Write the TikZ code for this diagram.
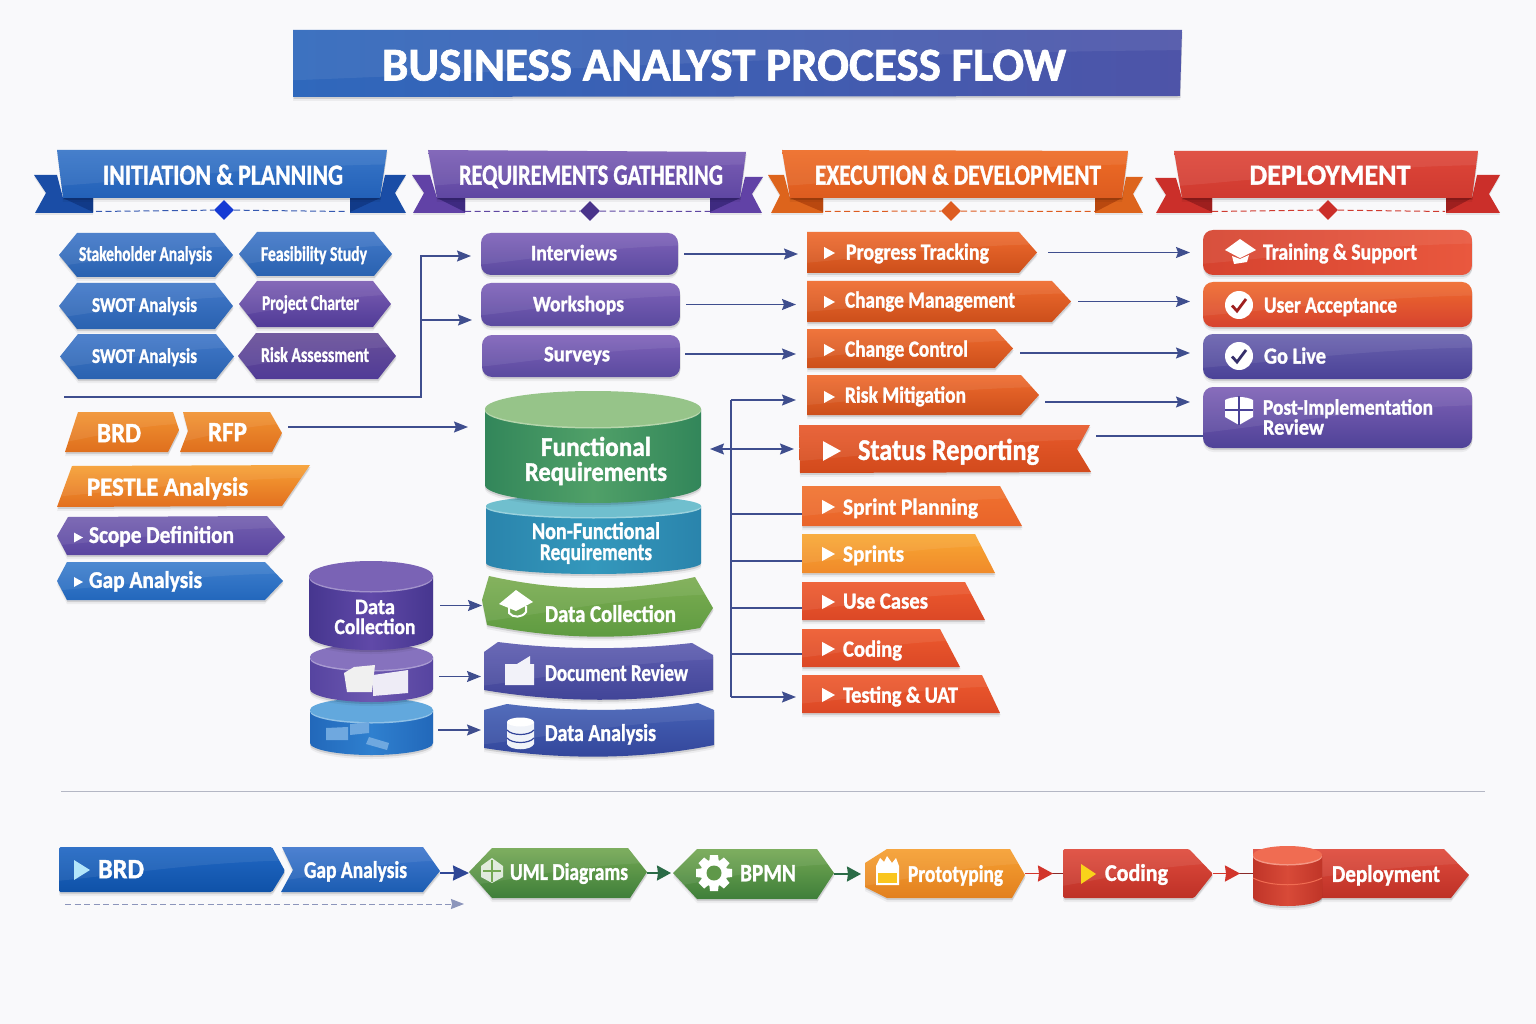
\documentclass[tikz,border=0pt]{standalone}
\usepackage{fontspec}
\usepackage{graphicx}
\setmainfont{Carlito}[BoldFont={Carlito Bold},BoldFeatures={FakeBold=1.4}]
\usetikzlibrary{arrows.meta,shapes.geometric,calc}
\def\defc#1#2{\definecolor{#1}{HTML}{#2}}
\defc{bgc}{F9F9FB}\defc{lnc}{3F4E8E}\defc{gry}{B4B7C4}
\defc{tA}{2F68BC}\defc{tB}{4E54A8}
\defc{bT}{3876C8}\defc{bB}{2361B8}\defc{bTail}{1A4DA6}\defc{bFold}{113A88}
\defc{pT}{7B5EB5}\defc{pB}{5F47A2}\defc{pTail}{6142A6}\defc{pFold}{3E2A80}
\defc{oT}{EE6C26}\defc{oB}{DD5C20}\defc{oTail}{DD641C}\defc{oFold}{B9480F}
\defc{rT}{DE4639}\defc{rB}{CF3A30}\defc{rTail}{CB2F2A}\defc{rFold}{9E1F1E}
\defc{hbT}{4279C9}\defc{hbB}{2A62B0}\defc{hpT}{7C5EB3}\defc{hpB}{503B97}
\defc{brT}{F19331}\defc{brB}{DF6F1E}\defc{peT}{F7A034}\defc{peB}{E26F1F}
\defc{spT}{7460B0}\defc{spB}{5A45A0}\defc{gpT}{3F80CE}\defc{gpB}{2367BC}
\defc{ivT}{7F62B9}\defc{ivB}{5A4A9F}
\defc{exT}{EF6B2E}\defc{exB}{CC4F1B}\defc{stT}{E85A2C}\defc{stB}{D24A1C}
\defc{s1T}{F0722F}\defc{s1B}{E9642A}\defc{s2T}{F8A834}\defc{s2B}{F08A2A}
\defc{s3T}{EE5A2E}\defc{s3B}{DB4826}
\defc{d1T}{E9583E}\defc{d1B}{D6432F}\defc{d3T}{6A62AE}\defc{d3B}{4A4297}
\defc{d4T}{7F62B6}\defc{d4B}{4F4298}
\defc{dcT}{7CAD52}\defc{dcB}{5D9A40}\defc{drT}{5F5EB1}\defc{drB}{3F4396}
\defc{daT}{4562B6}\defc{daB}{33459A}
\defc{b1T}{2268C4}\defc{b1B}{0F52A8}\defc{b2T}{4078CE}\defc{b2B}{1C5DB2}
\defc{gT}{74A853}\defc{gB}{3F7F3A}\defc{prT}{F6A032}\defc{prB}{E2801F}
\defc{cdT}{DF4B3C}\defc{cdB}{BE3127}
\defc{fgA}{32865A}\defc{fgM}{50A068}\defc{fgTop}{96C489}
\defc{ntA}{2A84AC}\defc{ntM}{3498BC}\defc{ntTop}{70BFCE}
\defc{c1A}{46368F}\defc{c1M}{6049A8}\defc{c1Top}{7A63B5}
\defc{c2A}{5644A0}\defc{c2M}{6C57B0}\defc{c2Top}{8672BE}
\defc{c3A}{2268BA}\defc{c3M}{2F80CF}\defc{c3Top}{62A8DD}
\defc{c4A}{C03528}\defc{c4M}{D84A38}\defc{c4Top}{F06C52}
\defc{ik}{6FA8DF}\defc{tipB}{2F4796}\defc{tipG}{2A6B46}\defc{tipR}{D2352B}\defc{lnR}{8A2A28}
\tikzset{
 lbl/.style={text=white,inner sep=0pt,outer sep=0pt,font=\bfseries},
 ghost/.style={inner sep=0pt,outer sep=0pt},
 conn/.style={draw=lnc,line width=1.3pt,-{Stealth[length=14pt,width=11pt,inset=2pt]}},
 plainln/.style={draw=lnc,line width=1.1pt},
 dashln/.style={dash pattern=on 6pt off 3.5pt,line width=1pt},
 tbs/.style 2 args={top color=#1,bottom color=#2},
}
\newsavebox\fitbox
\newcommand\fitw[3]{\sbox\fitbox{\fontsize{#2}{#2}\selectfont #3}\pgfmathsetmacro\sxx{#1/\the\wd\fitbox}\scalebox{\sxx}[1]{\usebox\fitbox}}
% name,x,y,width,size,text : y is the centre line of the capitals
\newcommand\lab[6]{\node[lbl,anchor=base] (#1) at ({#2},{#3+0.33*#5}) {\fitw{#4}{#5}{#6}};}
\newcommand\labb[9]{\node[lbl,align=center,font=\bfseries\fontsize{#6}{#7}\selectfont] (#1) at (#2,#3) {\fitw{#4}{#6}{#8}\\\fitw{#5}{#6}{#9}};}
% name,x1,y1,x2,y2,path,shading
\newcommand\shp[7]{%
 \path[fill=black,opacity=.05,shift={(0,4)}] #6;
 \path[fill=black,opacity=.12,shift={(.5,2)}] #6;
 \path[#7] #6;
 \begin{scope}\clip #6;
  \fill[white,opacity=.07] (#2,#3) -- (#4,#3) -- (#4,{#3+.3*(#5-#3)}) .. controls ({#2+.6*(#4-#2)},{#3+.35*(#5-#3)}) and ({#2+.3*(#4-#2)},{#3+.6*(#5-#3)}) .. (#2,{#3+.75*(#5-#3)}) -- cycle;
 \end{scope}
 \node[ghost,minimum width={(#4-#2)*1pt},minimum height={(#5-#3)*1pt}] (#1) at ({(#2+#4)/2},{(#3+#5)/2}) {};}
\newcommand\hexs[7]{\shp{#1}{#2}{#3}{#4}{#5}{({#2+#6},#3)--({#4-#6},#3)--(#4,{(#3+#5)/2})--({#4-#6},#5)--({#2+#6},#5)--(#2,{(#3+#5)/2})--cycle}{#7}}
\newcommand\penta[7]{\shp{#1}{#2}{#3}{#4}{#5}{(#2,#3)--(#6,#3)--(#4,{(#3+#5)/2})--(#6,#5)--(#2,#5)--cycle}{#7}}
\newcommand\slant[7]{\shp{#1}{#2}{#3}{#4}{#5}{(#2,#3)--(#6,#3)--(#4,#5)--(#2,#5)--cycle}{#7}}
\newcommand\rbox[6]{\shp{#1}{#2}{#3}{#4}{#5}{[rounded corners=10pt] (#2,#3) rectangle (#4,#5)}{#6}}
\newcommand\tri[4]{\fill[#4] ({#1},{#2-#3*.55}) -- ({#1+#3},#2) -- ({#1},{#2+#3*.55}) -- cycle;}
% name,x1,x2,ytop,ry,ybot,side,mid,top
\newcommand\cyl[9]{%
 \pgfmathsetmacro\cx{(#2+#3)/2}\pgfmathsetmacro\rx{(#3-#2)/2}\pgfmathsetmacro\cy{#4+#5}
 \def\bodyp{(#2,\cy) -- (#2,{#6-#5}) .. controls (#2,{#6-.45*#5}) and ({\cx-.55*\rx},#6) .. (\cx,#6) .. controls ({\cx+.55*\rx},#6) and (#3,{#6-.45*#5}) .. (#3,{#6-#5}) -- (#3,\cy) -- cycle}
 \path[fill=black,opacity=.05,shift={(0,4)}] \bodyp;
 \path[fill=black,opacity=.12,shift={(0,2)}] \bodyp;
 \path[left color=#7,right color=#7,middle color=#8] \bodyp;
 \fill[#9!70!white] (\cx,{\cy+1.5}) ellipse [x radius=\rx pt,y radius=#5 pt];
 \fill[#9] (\cx,\cy) ellipse [x radius=\rx pt,y radius=#5 pt];
 \node[ghost,minimum width={(#3-#2)*1pt},minimum height={(#6-#4)*1pt}] (#1) at (\cx,{(#4+#6)/2}) {};}
\newcommand\chk[3]{\fill[white] (#1,#2) circle (14pt);
 \draw[#3,line width=2.8pt] ({#1-7},{#2+.5}) -- ({#1-2},{#2+6}) -- ({#1+7},{#2-6});}
\newcommand\ribbon[9]{%
 \fill[black,opacity=.08,shift={(0,2)}] #1;\fill[black,opacity=.08,shift={(0,2)}] #3;
 \fill[#7] #1;\fill[#7] #3;\fill[#8] #2;\fill[#8] #4;}
\begin{document}
\begin{tikzpicture}[x=1pt,y=-1pt]
\useasboundingbox (0,0) rectangle (1536,1024);
\fill[bgc] (0,0) rectangle (1536,1024);
% ---- title
\shp{title}{293}{30}{1182}{97}{(293,30)--(1182,30)--(1180,96)--(293,97)--cycle}{left color=tA,right color=tB}
\lab{title-t}{724}{65}{684}{47}{BUSINESS ANALYST PROCESS FLOW}
% ---- banners
\ribbon{(34,175)--(46,193)--(35,213)--(93,213)--(93,198)--(63,198)--(57,175)--cycle}{(63,198)--(93,198)--(93,212)--cycle}{(406,175)--(395,193)--(406,213)--(350,213)--(350,198)--(380,198)--(385,175)--cycle}{(380,198)--(350,198)--(350,212)--cycle}{}{}{bTail}{bFold}{}
\shp{ban1}{57}{150}{387}{198}{(57,150)--(387,150)--(380,198)--(63,198)--cycle}{tbs={bT}{bB}}
\lab{ban1-t}{223}{175}{240}{29}{INITIATION \& PLANNING}
\ribbon{(412,175)--(424,193)--(413,213)--(465,213)--(465,198)--(437,198)--(430,175)--cycle}{(437,198)--(465,198)--(465,212)--cycle}{(763,177)--(752,194)--(762,213)--(710,213)--(710,198)--(740,198)--(745,177)--cycle}{(740,198)--(710,198)--(710,212)--cycle}{}{}{pTail}{pFold}{}
\shp{ban2}{428}{150}{746}{198}{(428,150)--(746,152)--(740,198)--(437,198)--cycle}{tbs={pT}{pB}}
\lab{ban2-t}{591}{175}{264}{29}{REQUIREMENTS GATHERING}
\ribbon{(768,175)--(780,195)--(771,213)--(823,213)--(823,198)--(790,198)--(784,175)--cycle}{(790,198)--(823,198)--(823,212)--cycle}{(1143,177)--(1133,194)--(1143,213)--(1095,213)--(1095,198)--(1122,198)--(1126,177)--cycle}{(1122,198)--(1095,198)--(1095,212)--cycle}{}{}{oTail}{oFold}{}
\shp{ban3}{782}{150}{1128}{198}{(782,150)--(1128,151)--(1122,198)--(790,198)--cycle}{tbs={oT}{oB}}
\lab{ban3-t}{958}{175}{286}{29}{EXECUTION \& DEVELOPMENT}
\ribbon{(1155,178)--(1166,195)--(1156,213)--(1212,213)--(1212,198)--(1182,198)--(1176,178)--cycle}{(1182,198)--(1212,198)--(1212,212)--cycle}{(1500,175)--(1489,194)--(1500,213)--(1446,213)--(1446,198)--(1472,198)--(1477,175)--cycle}{(1472,198)--(1446,198)--(1446,212)--cycle}{}{}{rTail}{rFold}{}
\shp{ban4}{1174}{151}{1478}{198}{(1174,151)--(1478,151)--(1472,198)--(1182,198)--cycle}{tbs={rT}{rB}}
\lab{ban4-t}{1330}{175}{161}{29}{DEPLOYMENT}
% dashes and diamonds
\coordinate (dl1) at (96,211.5);\coordinate (dr1) at (345,211.5);
\coordinate (dl2) at (465,211.5);\coordinate (dr2) at (710,211.5);
\coordinate (dl3) at (825,211.5);\coordinate (dr3) at (1095,211.5);
\coordinate (dl4) at (1212,211.5);\coordinate (dr4) at (1445,211.5);
\node[diamond,fill=bB!60!blue,inner sep=0pt,minimum size=20pt] (dia1) at (224,210) {};
\node[diamond,fill=pFold!80!pT,inner sep=0pt,minimum size=20pt] (dia2) at (590,211) {};
\node[diamond,fill=oB,inner sep=0pt,minimum size=20pt] (dia3) at (951,211) {};
\node[diamond,fill=rTail,inner sep=0pt,minimum size=20pt] (dia4) at (1328,210) {};
\draw[dashln,draw=bB!70!pB] (dl1)--(dia1)--(dr1);
\draw[dashln,draw=pB] (dl2)--(dia2)--(dr2);
\draw[dashln,draw=oB] (dl3)--(dia3)--(dr3);
\draw[dashln,draw=rB] (dl4)--(dia4)--(dr4);
% ---- initiation column
\hexs{hx1}{59}{233}{233}{277}{18}{tbs={hbT}{hbB}}\lab{hx1-t}{145.5}{254}{133}{21}{Stakeholder Analysis}
\hexs{hx2}{239}{232}{392}{276}{18}{tbs={hbT}{hbB}}\lab{hx2-t}{314}{254}{106}{21}{Feasibility Study}
\hexs{hx3}{59}{283}{233}{329}{18}{tbs={hbT}{hbB}}\lab{hx3-t}{144.5}{305}{105}{21}{SWOT Analysis}
\hexs{hx4}{239}{281}{391}{327}{18}{tbs={hpT}{hpB}}\lab{hx4-t}{310.5}{303}{97}{21}{Project Charter}
\hexs{hx5}{60}{334}{234}{379}{18}{tbs={hbT}{hbB}}\lab{hx5-t}{144.5}{356}{105}{21}{SWOT Analysis}
\hexs{hx6}{238}{333}{396}{379}{18}{tbs={hpT!85!black}{hpB}}\lab{hx6-t}{315}{355}{108}{21}{Risk Assessment}
\shp{brd}{65}{412}{179}{452}{(78,412)--(173,412)--(179,430)--(168,452)--(65,452)--cycle}{tbs={brT}{brB}}\lab{brd-t}{119}{433}{44}{28}{BRD}
\shp{rfp}{180}{412}{282}{452}{(183,412)--(270,412)--(282,433)--(272,452)--(180,452)--(188,431)--cycle}{tbs={brT}{brB}}\lab{rfp-t}{227.5}{432}{39}{28}{RFP}
\shp{pestle}{57}{465}{310}{507}{(72,466)--(310,465)--(282,506)--(57,507)--cycle}{tbs={peT}{peB}}\lab{pestle-t}{167.5}{487}{161}{26}{PESTLE Analysis}
\shp{scope}{57}{516}{285}{555}{(68,517)--(267,516)--(285,537)--(267,555)--(67,555)--(57,536)--cycle}{tbs={spT}{spB}}
\tri{74}{537.5}{9}{white}\lab{scope-t}{161.5}{535}{145}{24}{Scope Definition}
\shp{gap}{57}{562}{283}{600}{(67,562)--(265,562)--(283,581)--(265,600)--(67,600)--(57,581)--cycle}{tbs={gpT}{gpB}}
\tri{74}{582}{9}{white}\lab{gap-t}{145.5}{580}{113}{24}{Gap Analysis}
% ---- requirements column
\rbox{iv}{481}{233}{678}{275}{tbs={ivT}{ivB}}\lab{iv-t}{574}{253}{86}{22}{Interviews}
\rbox{ws}{481}{283}{680}{326}{tbs={ivT}{ivB}}\lab{ws-t}{578.5}{304}{91}{22}{Workshops}
\rbox{sv}{482}{335}{680}{377}{tbs={ivT}{ivB}}\lab{sv-t}{577}{354}{66}{22}{Surveys}
\cyl{nfr}{486}{701}{495}{11}{574}{ntA}{ntM}{ntTop}
\labb{nfr-t}{596}{543}{128}{112}{24}{21}{Non-Functional}{Requirements}
\cyl{fr}{485}{701}{391}{18}{503}{fgA}{fgM}{fgTop}
\labb{fr-t}{596}{461}{110}{142}{27}{25}{Functional}{Requirements}
\cyl{cy3}{310}{433}{698}{12}{755}{c3A}{c3M}{c3Top}
\cyl{cy2}{310}{433}{644}{13}{702}{c2A}{c2M}{c2Top}
\cyl{cy1}{309}{433}{561}{15}{650}{c1A}{c1M}{c1Top}
\labb{cy1-t}{375}{617}{40}{81}{22}{20}{Data}{Collection}
\fill[white!94!black] (344,673)--(354,667)--(375,665)--(372,692)--(347,692)--cycle;
\fill[white!90!c2A] (373,675)--(408,670)--(408,693)--(373,696)--cycle;
\fill[ik] (326,728)--(348,727)--(348,740)--(326,740)--cycle;
\fill[ik] (350,724)--(369,722)--(369,733)--(350,735)--cycle;
\fill[ik] (369,737)--(389,743)--(387,750)--(366,744)--cycle;
\shp{dc}{482}{576}{713}{637}{(482,600)--(489,576) .. controls (560,592) and (630,592) .. (695,577)--(713,608)--(700,628) .. controls (630,640) and (560,640) .. (487,625)--cycle}{tbs={dcT}{dcB}}
\fill[white] (499,604)--(516,590)--(533,602)--(516,611)--cycle;
\draw[white,line width=2pt] (509,607)--(509,613) .. controls (513,618) and (522,618) .. (526,612)--(526,606);
\lab{dc-t}{610.5}{614}{131}{24}{Data Collection}
\shp{dr}{484}{642}{713}{700}{(484,652)--(498,642) .. controls (560,650) and (630,650) .. (692,643)--(713,655)--(713,690) .. controls (640,703) and (560,703) .. (484,690)--cycle}{tbs={drT}{drB}}
\fill[white!92!drT] (505,664)--(517,664)--(530,656)--(530,664)--(534,664)--(534,685)--(505,685)--cycle;
\lab{dr-t}{616.5}{673}{143}{24}{Document Review}
\shp{da}{484}{703}{714}{758}{(484,710)--(507,704) .. controls (570,712) and (640,712) .. (698,703)--(714,710)--(714,745) .. controls (640,760) and (560,760) .. (484,748)--cycle}{tbs={daT}{daB}}
\fill[white!92!daT] (507,722) -- (507,744) .. controls (510,751) and (531,751) .. (534,744) -- (534,722) -- cycle;
\fill[white] (520.5,722) ellipse [x radius=13.5pt,y radius=4.5pt];
\draw[daB,line width=1.2pt] (507,730) .. controls (512,736) and (529,736) .. (534,730) (507,738) .. controls (512,744) and (529,744) .. (534,738);
\lab{da-t}{600.5}{733}{111}{24}{Data Analysis}
% ---- execution column
\penta{ex1}{807}{232}{1037}{273}{1019}{tbs={exT}{exB}}\tri{824}{253}{11}{white}\lab{ex1-t}{917.5}{252}{143}{23}{Progress Tracking}
\penta{ex2}{807}{281}{1071}{322}{1052}{tbs={exT}{exB}}\tri{824}{302}{11}{white}\lab{ex2-t}{930}{300}{170}{23}{Change Management}
\penta{ex3}{807}{329}{1013}{368}{995}{tbs={exT}{exB}}\tri{824}{350}{11}{white}\lab{ex3-t}{906.5}{349}{123}{23}{Change Control}
\penta{ex4}{807}{375}{1039}{415}{1021}{tbs={exT}{exB}}\tri{824}{397}{11}{white}\lab{ex4-t}{905.5}{395}{121}{23}{Risk Mitigation}
\shp{st}{799}{425}{1091}{473}{(799,425)--(1090,425)--(1077,449)--(1091,472)--(800,473)--cycle}{tbs={stT}{stB}}
\tri{823}{451}{18}{white}\lab{st-t}{948.5}{450}{181}{30}{Status Reporting}
\slant{s1}{802}{486}{1022}{526}{1000}{tbs={s1T}{s1B}}\tri{822}{507}{13}{white}\lab{s1-t}{910.5}{507}{135}{23}{Sprint Planning}
\slant{s2}{802}{534}{995}{573}{975}{tbs={s2T}{s2B}}\tri{822}{554}{13}{white}\lab{s2-t}{873.5}{554}{61}{23}{Sprints}
\slant{s3}{802}{582}{985}{620}{965}{tbs={s3T}{s3B}}\tri{822}{602}{13}{white}\lab{s3-t}{885.5}{601}{85}{23}{Use Cases}
\slant{s4}{802}{629}{960}{667}{940}{tbs={s3T}{s3B}}\tri{822}{649}{13}{white}\lab{s4-t}{872.5}{649}{59}{23}{Coding}
\slant{s5}{802}{675}{1000}{713}{982}{tbs={s3T}{s3B}}\tri{822}{695}{13}{white}\lab{s5-t}{900.5}{695}{115}{23}{Testing \& UAT}
% ---- deployment column
\rbox{d1}{1203}{230}{1472}{275}{left color=d1B,right color=d1T}
\fill[white] (1225,250)--(1240,239)--(1256,250)--(1240,258)--cycle;
\fill[white] (1232,256)--(1240,259)--(1249,255)--(1247,262)--(1234,264)--cycle;
\lab{d1-t}{1340}{252}{154}{23}{Training \& Support}
\rbox{d2}{1203}{282}{1472}{327}{tbs={exT}{d1B}}\chk{1239}{305}{rFold}\lab{d2-t}{1330.5}{305}{133}{23}{User Acceptance}
\rbox{d3}{1203}{334}{1472}{379}{tbs={d3T}{d3B}}\chk{1239}{356}{d3B!70!black}\lab{d3-t}{1295}{356}{62}{23}{Go Live}
\rbox{d4}{1203}{387}{1472}{448}{tbs={d4T}{d4B}}
\fill[white] (1225,400) .. controls (1232,396) and (1246,396) .. (1253,400)--(1253,417)--(1239,425)--(1225,417)--cycle;
\draw[d3B,line width=1.4pt] (1239,396)--(1239,425) (1225,410)--(1253,410);
\node[lbl,anchor=west,align=left,font=\bfseries\fontsize{22}{20}\selectfont] (d4-t) at (1263,417) {\fitw{170}{22}{Post-Implementation}\\\fitw{61}{22}{Review}};
% ---- connectors upper
\coordinate (lstart) at (64,397);\coordinate (lcorner) at (421,397);\coordinate (lbranch) at (421,320);
\draw[plainln] (lstart) -- (lcorner) -- (lbranch);
\draw[conn,shorten >=10pt] (lbranch) |- ([yshift=-2pt]iv.west);
\draw[conn,shorten >=9pt] (lbranch) -- ([yshift=-15.5pt]ws.west);
\draw[conn,shorten <=6pt,shorten >=17pt] ([yshift=5pt]rfp.east) -- ([yshift=5pt]rfp.east -| fr.west);
\draw[conn,shorten <=6pt,shorten >=9pt] (iv.east) -- (iv.east -| ex1.west);
\draw[conn,shorten <=6pt,shorten >=11pt] (ws.east) -- (ws.east -| ex2.west);
\draw[conn,shorten <=5pt,shorten >=11pt] ([yshift=2pt]sv.east) -- ([yshift=2pt]sv.east -| ex3.west);
\draw[conn,shorten <=11pt,shorten >=13pt] (ex1.east) -- (ex1.east -| d1.west);
\draw[conn,shorten <=7pt,shorten >=13pt] (ex2.east) -- (ex2.east -| d2.west);
\draw[conn,shorten <=7pt,shorten >=13pt] ([yshift=-4.5pt]ex3.east) -- ([yshift=-4.5pt]ex3.east -| d3.west);
\draw[conn,shorten <=6pt,shorten >=13pt] ([yshift=-7pt]ex4.east) -- ([yshift=-7pt]ex4.east -| d4.west);
\draw[plainln,shorten >=5pt] ([yshift=-18.5pt]d4.west) -- ([yshift=-18.5pt]d4.west -| st.east);
\coordinate (bustop) at (731,400);\coordinate (busbot) at (731,697);
\draw[plainln] (bustop) -- (busbot);
\draw[conn,shorten >=11pt] (bustop) -- (bustop -| ex4.west);
\draw[draw=lnc,line width=1.3pt,{Stealth[length=14pt,width=11pt,inset=2pt]}-{Stealth[length=14pt,width=11pt,inset=2pt]},shorten <=9pt,shorten >=5pt] (fr.east |- st.west) -- (st.west);
\draw[plainln] (bustop |- 0,514) -- ([yshift=-8pt]s1.west);
\draw[plainln] (bustop |- 0,561) -- ([yshift=-7.5pt]s2.west);
\draw[plainln] (bustop |- 0,608) -- ([yshift=-7pt]s3.west);
\draw[plainln] (bustop |- 0,654) -- ([yshift=-6pt]s4.west);
\draw[conn,shorten >=6pt] (busbot) -- ([yshift=-3pt]s5.west);
\draw[conn,shorten <=7pt] (cy1.east) -- (cy1.east -| dc.west);
\draw[conn,shorten <=6pt,shorten >=3pt] ([yshift=-3.5pt]cy2.east) -- ([yshift=-3.5pt]cy2.east -| dr.west);
\draw[conn,shorten <=5pt,shorten >=3pt] ([yshift=-3.5pt]cy3.east) -- ([yshift=-3.5pt]cy3.east -| da.west);
% ---- divider
\coordinate (divl) at (61,791);\coordinate (divr) at (1485,791);
\draw[gry,line width=1pt] (divl) -- (divr);
% ---- bottom row
\shp{bb}{59}{847}{285}{892}{[rounded corners=1.5pt] (59,847)--(272,847)--(285,871)--(272,892)--(59,892)--cycle}{tbs={b1T}{b1B}}
\fill[white!70!cyan] (74,860)--(90,870)--(74,880)--cycle;
\lab{bb-t}{121}{869}{46}{28}{BRD}
\shp{bg}{281}{847}{440}{892}{(282,847)--(423,847)--(440,871)--(423,892)--(281,892)--(293,870)--cycle}{tbs={b2T}{b2B}}
\lab{bg-t}{355.5}{870}{103}{24}{Gap Analysis}
\shp{bu}{469}{848}{647}{898}{(469,872)--(492,848)--(628,848)--(647,872)--(630,898)--(492,898)--cycle}{tbs={gT}{gB}}
\fill[white,opacity=.8] (481,866)--(492,858)--(503,866)--(503,877)--(492,883)--(481,877)--cycle;
\draw[gT,line width=1.2pt] (492,860)--(492,882) (483,871)--(501,871);
\lab{bu-t}{569}{872}{118}{24}{UML Diagrams}
\shp{bp}{673}{849}{834}{899}{(673,873)--(697,849)--(817,849)--(834,873)--(817,899)--(697,899)--cycle}{tbs={gT}{gB}}
\foreach \ang in {0,45,...,315}{\fill[white,rotate around={\ang:(714,873)}] (710,855)--(718,855)--(719,864)--(709,864)--cycle;}
\fill[white] (714,873) circle (13.5pt);\fill[gT!60!gB] (714,873) circle (7.5pt);
\lab{bp-t}{768}{873}{56}{25}{BPMN}
\shp{bt}{865}{849}{1025}{898}{(865,863)--(887,849)--(1010,849)--(1025,875)--(1012,898)--(887,898)--(865,887)--cycle}{tbs={prT}{prB}}
\fill[white] (876,866)--(880,858)--(884,862)--(887,856)--(892,863)--(896,858)--(899,866)--(899,885)--(876,885)--cycle;
\fill[prT!60!yellow] (878,873) rectangle (897,883);
\lab{bt-t}{955.5}{874}{95}{24}{Prototyping}
\shp{bc}{1063}{849}{1213}{898}{[rounded corners=1.5pt] (1063,849)--(1189,849)--(1213,874)--(1194,898)--(1063,898)--cycle}{tbs={cdT}{cdB}}
\fill[yellow!60!prT] (1081,864)--(1096,874)--(1081,884)--cycle;
\lab{bc-t}{1136.5}{873}{63}{24}{Coding}
\shp{bd}{1253}{849}{1469}{898}{(1253,849)--(1444,849)--(1469,875)--(1451,898)--(1253,898)--cycle}{tbs={cdT}{cdB}}
\cyl{bdc}{1253}{1322}{846}{9}{906}{c4A}{c4M}{c4Top}
\draw[c4Top,line width=1pt] (1253,878) .. controls (1270,887) and (1305,887) .. (1322,878);
\lab{bd-t}{1386}{874}{108}{24}{Deployment}
\draw[draw=tipB,line width=1.8pt,-{Stealth[length=16pt,width=15pt,inset=1pt]}] (bg.east |- bu.west) -- (bu.west);
\draw[draw=tipG,line width=1.8pt,-{Stealth[length=14pt,width=15pt,inset=1pt]},shorten >=2pt] (bu.east) -- (bu.east -| bp.west);
\draw[draw=tipG,line width=1.8pt,-{Stealth[length=14pt,width=15pt,inset=1pt]},shorten >=4pt] (bp.east) -- (bp.east -| bt.west);
\draw[draw=lnR,line width=1.8pt] (bt.east) -- (bt.east -| bc.west);
\draw[draw=tipR,line width=1.8pt,-{Stealth[length=15pt,width=16pt,inset=1pt]},shorten >=10pt] (bt.east) -- (bt.east -| bc.west);
\draw[draw=lnR,line width=1.8pt] (bc.east) -- (bc.east -| bdc.west);
\draw[draw=tipR,line width=1.8pt,-{Stealth[length=15pt,width=16pt,inset=1pt]},shorten >=13pt] (bc.east) -- (bc.east -| bdc.west);
\coordinate (dsa) at (65,904);\coordinate (dsb) at (464,904);
\draw[dashln,draw=lnc!60!white,-{Stealth[length=13pt,width=10pt,inset=1pt]}] (dsa) -- (dsb);
\end{tikzpicture}
\end{document}
